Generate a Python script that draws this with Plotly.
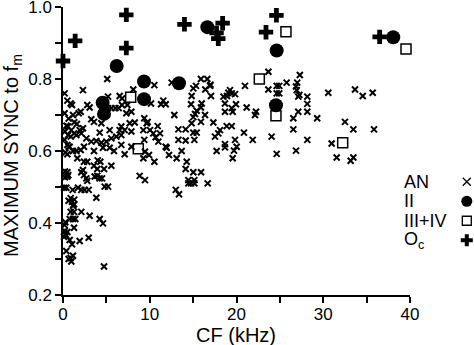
import plotly.graph_objects as go

# ---- data: characteristic frequency (kHz) and maximum synchronization to fm ----
an_cf = [
    5.1, 0.19, 2.3, 0.5, 0.88, 1.04, 2.8, 3.07, 0.19, 2.04, 1.81, 1.15, 5.19, 6.53, 6.8,
    5.19, 5.57, 6.03, 6.42, 6.8, 7.42, 7.88, 7.3, 4.42, 3.57, 3.26, 0.58, 0.96, 0.58, 1.27,
    1.54, 2.11, 1.92, 2.3, 2.69, 3.26, 3.84, 4.42, 5.0, 5.57, 6.15, 6.72, 7.11, 7.69, 8.27,
    4.23, 6.72, 6.53, 7.88, 0.19, 0.5, 0.77, 6.72, 7.88, 5.38, 8.1, 0.65, 0.23, 0.65, 1.3,
    0.4, 1.6, 0.9,
    10.53, 12.53, 15.33, 15.02, 16.95, 15.9, 16.63, 14.83, 17.06, 10.14, 11.3, 11.56, 11.84,
    15.99, 15.9, 14.76, 15.41, 15.22, 15.02, 16.37, 12.83, 9.37, 9.76, 9.65, 10.92, 15.9,
    17.33, 14.83, 9.26, 10.03, 10.41, 13.3, 14.14, 15.02, 15.41, 11.18, 17.9, 17.52, 10.68,
    10.99, 9.37, 13.3, 14.14, 15.14, 11.84, 17.71, 13.68, 11.95, 16.4, 17.0,
    23.67, 27.3, 20.98, 19.25, 19.06, 19.45, 19.83, 18.5, 18.9, 24.63, 24.93, 24.63, 24.93,
    23.67, 25.78, 27.0, 26.86, 26.94, 27.24, 27.12, 28.16, 30.58, 33.66, 34.55, 35.7, 18.67,
    19.94, 19.45, 19.56, 18.67, 21.17, 22.25, 22.13, 28.16, 28.16, 27.12, 26.55, 29.3, 18.87,
    19.45, 18.1, 32.5, 33.47, 35.85, 26.55, 20.86, 24.05, 21.87, 19.83, 18.67, 18.67, 20.02,
    19.71, 28.16, 30.97, 26.86, 24.63, 19.56, 31.55, 33.47, 33.16,
    1.15, 1.54, 2.04, 2.42, 3.57, 4.61, 5.38, 5.88, 7.11, 0.27, 0.5, 1.65, 2.42, 2.8, 3.57,
    3.95, 4.0, 4.3, 4.73, 5.57, 2.3, 2.11, 2.42, 0.5, 0.5, 2.69, 2.8, 3.65, 3.95, 4.22, 4.5,
    1.73, 2.11, 2.5, 2.96, 4.8, 5.19, 0.12, 0.38, 0.88, 1.04, 1.27, 1.15, 0.65, 1.3, 3.84,
    0.88, 1.27, 2.11, 3.07, 4.23, 0.77, 1.15, 1.42, 4.61, 0.27, 0.19, 1.27, 0.19, 0.27, 0.12,
    0.38, 0.5, 2.96, 1.92, 0.77, 1.04, 0.38, 1.15, 0.88, 0.65, 0.96, 4.73, 0.23, 0.61, 0.23,
    1.11,
    9.45, 9.91, 9.26, 10.53, 12.22, 13.1, 14.26, 14.14, 15.02, 15.91, 14.45, 14.76, 15.14,
    15.14, 14.45, 16.68, 8.84, 9.45, 13.0, 13.37,
]
an_sync = [
    0.800, 0.760, 0.769, 0.740, 0.732, 0.728, 0.728, 0.721, 0.705, 0.709, 0.705, 0.700, 0.751, 0.753, 0.746,
    0.719, 0.719, 0.719, 0.719, 0.728, 0.728, 0.709, 0.705, 0.677, 0.681, 0.688, 0.668, 0.658, 0.644, 0.649,
    0.644, 0.649, 0.658, 0.663, 0.635, 0.626, 0.628, 0.623, 0.626, 0.635, 0.640, 0.644, 0.658, 0.677, 0.679,
    0.651, 0.668, 0.658, 0.654, 0.631, 0.617, 0.612, 0.617, 0.612, 0.658, 0.771, 0.612, 0.654, 0.690, 0.680,
    0.670, 0.675, 0.640,
    0.783, 0.790, 0.781, 0.774, 0.781, 0.800, 0.800, 0.753, 0.753, 0.732, 0.730, 0.740, 0.730,
    0.732, 0.721, 0.730, 0.712, 0.703, 0.694, 0.700, 0.700, 0.691, 0.681, 0.677, 0.669, 0.681,
    0.679, 0.677, 0.658, 0.658, 0.649, 0.660, 0.660, 0.651, 0.651, 0.649, 0.649, 0.640, 0.638,
    0.626, 0.631, 0.631, 0.629, 0.631, 0.612, 0.600, 0.600, 0.609, 0.771, 0.784,
    0.820, 0.811, 0.781, 0.769, 0.762, 0.760, 0.758, 0.751, 0.753, 0.781, 0.781, 0.760, 0.760,
    0.771, 0.790, 0.790, 0.779, 0.769, 0.756, 0.751, 0.751, 0.762, 0.771, 0.753, 0.762, 0.732,
    0.730, 0.719, 0.709, 0.709, 0.721, 0.709, 0.700, 0.731, 0.709, 0.709, 0.691, 0.691, 0.669,
    0.669, 0.658, 0.681, 0.660, 0.660, 0.660, 0.651, 0.640, 0.631, 0.631, 0.619, 0.610, 0.612,
    0.601, 0.631, 0.621, 0.601, 0.592, 0.580, 0.582, 0.582, 0.573,
    0.600, 0.600, 0.603, 0.612, 0.600, 0.609, 0.609, 0.600, 0.591, 0.596, 0.591, 0.580, 0.570, 0.570, 0.559,
    0.550, 0.574, 0.570, 0.550, 0.559, 0.547, 0.541, 0.533, 0.541, 0.529, 0.524, 0.517, 0.529, 0.531, 0.524, 0.524,
    0.498, 0.492, 0.492, 0.492, 0.501, 0.501, 0.498, 0.498, 0.469, 0.459, 0.452, 0.448, 0.462, 0.465, 0.470,
    0.431, 0.431, 0.431, 0.420, 0.411, 0.411, 0.411, 0.411, 0.399, 0.402, 0.394, 0.387, 0.378, 0.369, 0.362,
    0.365, 0.375, 0.359, 0.350, 0.353, 0.341, 0.322, 0.309, 0.303, 0.300, 0.293, 0.279, 0.543, 0.533, 0.527,
    0.492,
    0.598, 0.589, 0.580, 0.570, 0.589, 0.580, 0.570, 0.550, 0.541, 0.541, 0.519, 0.510, 0.519,
    0.510, 0.510, 0.510, 0.531, 0.519, 0.492, 0.480,
]

ii_cf = [4.57, 4.73, 6.19, 9.34, 9.34, 13.37, 16.64, 24.63, 24.55, 38.07]
ii_sync = [0.734, 0.703, 0.836, 0.793, 0.744, 0.788, 0.944, 0.879, 0.727, 0.916]

iii_cf = [7.8, 8.68, 25.7, 22.63, 24.55, 32.24, 39.54]
iii_sync = [0.749, 0.606, 0.931, 0.800, 0.698, 0.623, 0.883]

oc_cf = [0.0, 1.4, 7.3, 7.3, 14.0, 18.4, 17.7, 17.9, 24.6, 23.4, 36.5]
oc_sync = [0.850, 0.906, 0.978, 0.886, 0.952, 0.955, 0.928, 0.912, 0.977, 0.930, 0.917]

x_ticks = [0, 10, 20, 30, 40]
y_ticks = [0.2, 0.4, 0.6, 0.8, 1.0]
legend_labels = ["AN", "II", "III+IV", "O<sub>c</sub>"]
legend_rows = [3, 2, 1, 0]

W, H = 474, 345
FONT = "Liberation Sans, Arial, Helvetica, sans-serif"

an_style = dict(symbol="x-thin", size=6, color="black", line=dict(width=2, color="black"))
ii_style = dict(symbol="circle", size=14, color="black", line=dict(width=0))
iii_style = dict(symbol="square-open", size=10, color="black", line=dict(width=1.5, color="black"))
oc_style = dict(symbol="cross", size=12, color="black", line=dict(width=0))

fig = go.Figure()
fig.add_trace(go.Scatter(x=an_cf, y=an_sync, mode="markers", marker=an_style, cliponaxis=False))
fig.add_trace(go.Scatter(x=iii_cf, y=iii_sync, mode="markers", marker=iii_style, cliponaxis=False))
fig.add_trace(go.Scatter(x=ii_cf, y=ii_sync, mode="markers", marker=ii_style, cliponaxis=False))
fig.add_trace(go.Scatter(x=oc_cf, y=oc_sync, mode="markers", marker=oc_style, cliponaxis=False))

# legend key symbols on a small helper axis to the right of the labels
key_styles = [
    dict(symbol="x-thin", size=8, color="black", line=dict(width=1.3, color="black")),
    dict(symbol="circle", size=11, color="black", line=dict(width=0)),
    dict(symbol="square-open", size=9, color="black", line=dict(width=1.3, color="black")),
    dict(symbol="cross", size=10, color="black", line=dict(width=0)),
]
for row, st in zip(legend_rows, key_styles):
    fig.add_trace(go.Scatter(x=[0.7], y=[row], mode="markers", marker=st,
                             xaxis="x2", yaxis="y2", cliponaxis=False))

axis_common = dict(
    showline=True, linecolor="black", linewidth=1.5, mirror=False,
    ticks="outside", ticklen=6, tickwidth=1.5, tickcolor="black",
    showgrid=False, zeroline=False, automargin=False,
    ticklabeloverflow="allow",
    tickfont=dict(family=FONT, size=17, color="black"),
)

fig.update_layout(
    width=W, height=H,
    margin=dict(l=0, r=0, t=0, b=0),
    paper_bgcolor="white", plot_bgcolor="white",
    showlegend=False,
    font=dict(family=FONT, color="black"),
    xaxis=dict(domain=[63 / W, 410 / W], range=[0, 40], tickvals=x_ticks,
               ticklabelstandoff=-3,
               minor=dict(dtick=5, ticks="outside", ticklen=6, tickwidth=1.5, tickcolor="black"),
               **axis_common),
    yaxis=dict(domain=[1 - 295 / H, 1 - 7 / H], range=[0.2, 1.0], tickvals=y_ticks,
               tickformat=".1f",
               minor=dict(dtick=0.1, ticks="outside", ticklen=6, tickwidth=1.5, tickcolor="black"),
               **axis_common),
    xaxis2=dict(domain=[450 / W, 1.0], range=[0, 1], visible=False, anchor="y2"),
    yaxis2=dict(domain=[1 - 250 / H, 1 - 172 / H], range=[-0.5, 3.5], visible=False, anchor="x2"),
)

annotations = [
    dict(text="CF (kHz)", x=236 / W, y=1 - 335 / H, xref="paper", yref="paper",
         xanchor="center", yanchor="middle", showarrow=False,
         font=dict(family=FONT, size=20, color="black")),
    dict(text="MAXIMUM SYNC to f<sub>m</sub>", x=12 / W, y=1 - 156 / H,
         xref="paper", yref="paper", xanchor="center", yanchor="middle",
         textangle=-90, showarrow=False,
         font=dict(family=FONT, size=20, color="black")),
]
for label, row in zip(legend_labels, legend_rows):
    annotations.append(dict(text=label, x=402 / W, y=row, xref="paper", yref="y2",
                            xanchor="left", yanchor="middle", showarrow=False,
                            font=dict(family=FONT, size=18, color="black")))
fig.update_layout(annotations=annotations)

fig.write_html("out.html")
